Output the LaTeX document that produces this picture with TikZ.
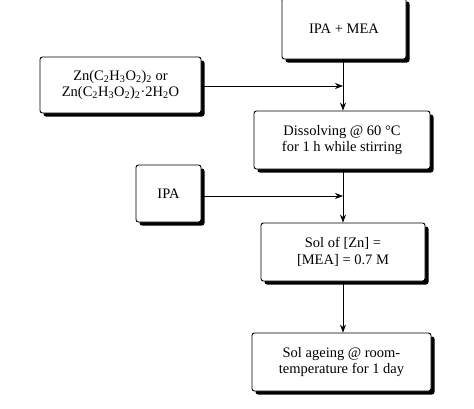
\documentclass[tikz,border=0pt]{standalone}
\usepackage{fontspec}
\setmainfont{Liberation Serif}
\usetikzlibrary{shadows,arrows.meta}
\begin{document}
\begin{tikzpicture}[x=1pt,y=-1pt,
 box/.style={draw=black, line width=0.9pt, fill=white, rounded corners=2.5pt, align=center,
   font=\fontsize{14.5}{16.5}\selectfont, inner sep=0pt,
   drop shadow={shadow xshift=3.5pt, shadow yshift=-3.5pt, opacity=1, fill=black}},
 arr/.style={-{Stealth[length=8pt,width=6pt]}, line width=0.6pt}]
\useasboundingbox (0,0) rectangle (474,408);
\node[box, minimum width=124pt, minimum height=61pt] (mix) at (344,28.5) {IPA + MEA};
\node[box, minimum width=161pt, minimum height=56pt] (zn) at (120.5,85) {Zn(C\textsubscript{2}H\textsubscript{3}O\textsubscript{2})\textsubscript{2} or\\Zn(C\textsubscript{2}H\textsubscript{3}O\textsubscript{2})\textsubscript{2}·2H\textsubscript{2}O};
\node[box, minimum width=176pt, minimum height=58pt] (dis) at (342,140) {Dissolving @ 60 °C\\for 1 h while stirring};
\node[box, minimum width=65pt, minimum height=57pt] (ipa) at (168.5,193.5) {IPA};
\node[box, minimum width=164pt, minimum height=58pt] (sol) at (343,252) {Sol of [Zn] =\\{}[MEA] = 0.7 M};
\node[box, minimum width=179pt, minimum height=58pt] (age) at (341.5,362) {Sol ageing @ room-\\temperature for 1 day};
\coordinate (x) at (343,0);
\coordinate (j1) at (343,86);
\coordinate (j2) at (343,196);
\draw[arr] (mix.south -| x) -- (dis.north -| x);
\draw[arr] (zn.east |- j1) -- (j1);
\draw[arr] (dis.south -| x) -- (sol.north -| x);
\draw[arr] (ipa.east |- j2) -- (j2);
\draw[arr] (sol.south -| x) -- (age.north -| x);
\end{tikzpicture}
\end{document}
